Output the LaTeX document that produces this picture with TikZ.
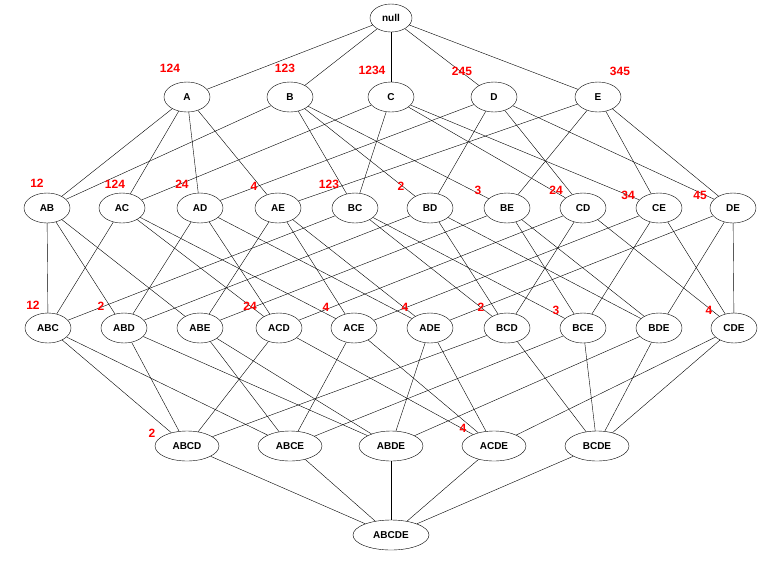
\documentclass[tikz,border=0pt]{standalone}
\usepackage{fontspec}
\setmainfont{Liberation Sans}
\usetikzlibrary{shapes.geometric}
\begin{document}
\begin{tikzpicture}[x=1pt,y=-1pt,
  nd/.style={draw,ellipse,minimum width=46pt,minimum height=30pt,inner sep=0pt,font=\bfseries\fontsize{10}{12}\selectfont},
  lb/.style={text=red,font=\bfseries\fontsize{12}{14}\selectfont}]
\useasboundingbox (0,0) rectangle (774,574);
\node[nd,minimum width=42pt,minimum height=28pt] (null) at (391,18) {null};
\foreach \n/\x in {A/187,B/290,C/391,D/494,E/598} \node[nd] (\n) at (\x,97) {\n};
\foreach \n/\x in {AB/47,AC/122,AD/200,AE/278,BC/355,BD/430,BE/507,CD/583,CE/659,DE/733} \node[nd] (\n) at (\x,208) {\n};
\foreach \n/\x in {ABC/48,ABD/124,ABE/200,ACD/279,ACE/354,ADE/430,BCD/507,BCE/583,BDE/659,CDE/734} \node[nd] (\n) at (\x,328) {\n};
\foreach \n/\x in {ABCD/187,ABCE/290,ABDE/391,ACDE/494,BCDE/597} \node[nd,minimum width=64pt] (\n) at (\x,446) {\n};
\node[nd,minimum width=76pt] (ABCDE) at (391,535) {ABCDE};
\foreach \a/\bs in {null/{A,B,C,D,E},A/{AB,AC,AD,AE},B/{AB,BC,BD,BE},C/{AC,BC,CD,CE},D/{AD,BD,CD,DE},E/{AE,BE,CE,DE},
 AB/{ABC,ABD,ABE},AC/{ABC,ACD,ACE},AD/{ABD,ACD,ADE},AE/{ABE,ACE,ADE},BC/{ABC,BCD,BCE},BD/{ABD,BCD,BDE},BE/{ABE,BCE,BDE},CD/{ACD,BCD,CDE},CE/{ACE,BCE,CDE},DE/{ADE,BDE,CDE},
 ABC/{ABCD,ABCE},ABD/{ABCD,ABDE},ABE/{ABCE,ABDE},ACD/{ABCD,ACDE},ACE/{ABCE,ACDE},ADE/{ABDE,ACDE},BCD/{ABCD,BCDE},BCE/{ABCE,BCDE},BDE/{ABDE,BCDE},CDE/{ACDE,BCDE},
 ABCD/{ABCDE},ABCE/{ABCDE},ABDE/{ABCDE},ACDE/{ABCDE},BCDE/{ABCDE}}
 \foreach \b in \bs \draw (\a) -- (\b);
\foreach \t/\x/\y [count=\i] in {124/170/68,123/285/68,1234/372/70,245/462/71,345/620/71,
 12/37/183,124/115/184,24/182/184,4/254/186,123/329/184,2/401/186,3/478/190,24/556/190,34/628/195,45/700/195,
 12/33/305,2/101/306,24/250/306,4/326/307,4/405/307,2/481/307,3/556/310,4/709/310,
 2/152/433,4/463/428}
 \node[lb] (l\i) at (\x,\y) {\t};
\end{tikzpicture}
\end{document}
